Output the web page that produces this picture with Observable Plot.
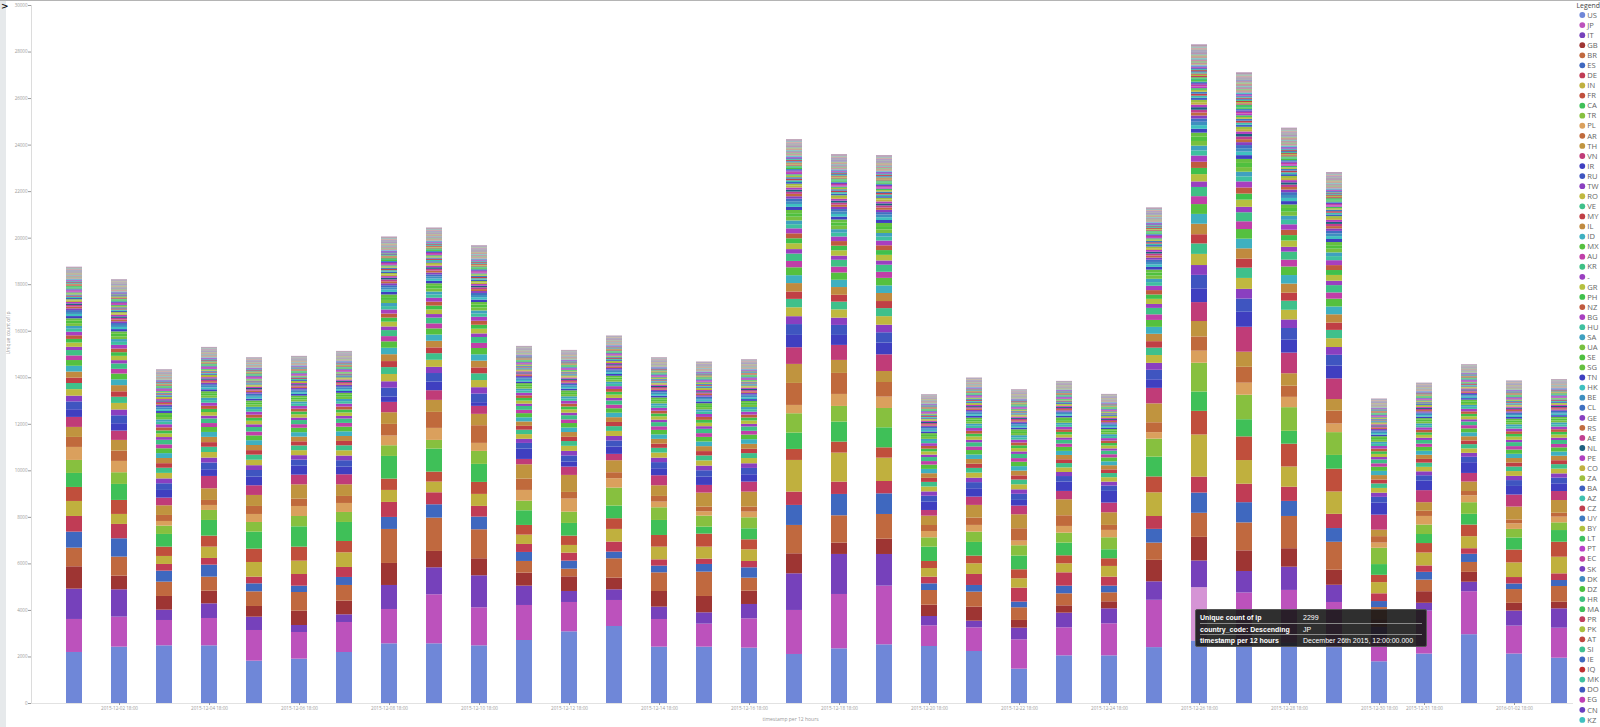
<!DOCTYPE html>
<html><head><meta charset="utf-8">
<script src="https://cdn.jsdelivr.net/npm/d3@7"></script>
<script src="https://cdn.jsdelivr.net/npm/@observablehq/plot@0.6"></script>
<style>
html,body{margin:0;padding:0;background:#fff;width:1600px;height:727px;overflow:hidden;font-family:"Open Sans",Helvetica,Arial,sans-serif;}
#wrap{position:relative;width:1600px;height:727px;overflow:hidden;}
#chart{position:absolute;left:0;top:0;}
#overlay{position:absolute;left:0;top:0;pointer-events:none;}
#topline{position:absolute;left:0;top:0;width:1600px;height:1px;background:#b4b4b4;}
#side{position:absolute;left:0;top:0;width:6px;height:727px;background:#e6e9eb;}
#chev{position:absolute;left:1px;top:0px;font-size:9px;font-weight:bold;color:#111;font-family:"DejaVu Sans",sans-serif;line-height:12px;}
#tip{position:absolute;left:1195px;top:609px;width:230px;height:36px;background:rgba(24,24,24,0.9);border:1px solid #555;border-radius:2px;color:#fff;font-family:"Liberation Sans",Arial,sans-serif;font-size:7px;}
#tip .row{position:absolute;left:4px;right:4px;height:11px;line-height:11px;white-space:nowrap;}
#tip .row b{position:absolute;left:0;}
#tip .row span{position:absolute;left:103px;}
#tip .sep{position:absolute;left:4px;right:4px;height:0;border-top:1px solid #8a8a8a;}
</style></head>
<body>
<div id="wrap">
  <div id="chart"></div>
  <div id="side"><div id="chev">&gt;</div></div>
  <div id="topline"></div>
</div>
<script>
// ---------- DATA ----------
const days = ["2015-12-01","2015-12-02","2015-12-03","2015-12-04","2015-12-05","2015-12-06","2015-12-07","2015-12-08","2015-12-09","2015-12-10","2015-12-11","2015-12-12","2015-12-13","2015-12-14","2015-12-15","2015-12-16","2015-12-17","2015-12-18","2015-12-19","2015-12-20","2015-12-21","2015-12-22","2015-12-23","2015-12-24","2015-12-25","2015-12-26","2015-12-27","2015-12-28","2015-12-29","2015-12-30","2015-12-31","2016-01-01","2016-01-02","2016-01-03"];
const tickDays = ["2015-12-02","2015-12-04","2015-12-06","2015-12-08","2015-12-10","2015-12-12","2015-12-14","2015-12-16","2015-12-18","2015-12-20","2015-12-22","2015-12-24","2015-12-26","2015-12-28","2015-12-30","2015-12-31","2016-01-02"];
const tickLabels = ["2015-12-02 18:00","2015-12-04 18:00","2015-12-06 18:00","2015-12-08 18:00","2015-12-10 18:00","2015-12-12 18:00","2015-12-14 18:00","2015-12-16 18:00","2015-12-18 18:00","2015-12-20 18:00","2015-12-22 18:00","2015-12-24 18:00","2015-12-26 18:00","2015-12-28 18:00","2015-12-30 18:00","2015-12-31 18:00","2016-01-02 18:00"];
const yTicks = [0,2000,4000,6000,8000,10000,12000,14000,16000,18000,20000,22000,24000,26000,28000,30000];

// bar totals (unique count of ip per bucket)
const totals = [18750,18213,14344,15304,14860,14918,15132,20048,20435,19675,15347,15175,15792,14860,14674,14774,24236,23593,23550,13270,13986,13485,13843,13284,21300,28311,27110,24726,22822,13084,13768,14562,13860,13923];

// largest countries, per bar
const US = [2193,2422,2479,2479,1820,1906,2192,2565,2565,2479,2708,3081,3310,2422,2422,2379,2107,2350,2522,2450,2235,1476,2049,2049,2402,2680,2495,2587,2402,1793,2125,2957,2125,1947];
const JP = [1419,1290,1089,1175,1318,1146,1290,1476,2107,1634,1505,1261,1118,1189,989,1261,1892,2336,2522,888,1017,1261,1204,1376,2033,2299,2255,2273,1940,1050,1848,1848,1201,1289];
const IT = [1304,1175,444,630,573,301,330,1032,1161,1376,831,473,459,530,487,616,1576,1720,1361,401,287,502,630,645,795,1146,924,998,739,430,333,407,647,833];
const GB = [960,588,588,545,459,616,588,946,702,731,559,630,502,673,702,573,860,487,659,487,602,330,315,301,924,1016,887,795,647,330,499,425,333,284];
const BR = [802,817,616,602,630,802,673,1462,1433,1247,502,330,831,802,1046,559,1218,1175,1060,630,645,545,516,387,739,1035,1201,1386,1201,520,499,425,591,675];
const ES = [688,788,473,516,344,272,344,516,573,545,387,344,287,287,330,444,860,917,888,287,287,244,330,287,591,869,869,647,591,259,333,351,240,258];
const DE = [673,616,287,287,287,502,430,645,516,459,344,344,430,272,229,272,573,530,530,287,473,602,573,387,554,684,795,610,610,333,277,240,277,287];
const IN = [645,430,344,487,630,573,630,516,459,516,401,330,545,545,516,502,1361,1247,1003,373,459,401,387,459,1016,1811,1016,869,961,480,554,517,628,714];
const FR = [602,602,401,473,573,602,487,487,430,516,416,401,459,502,559,430,473,473,444,301,330,387,344,330,684,1016,1016,980,980,314,407,499,554,645];
const CA = [602,688,545,673,731,874,817,974,989,774,630,545,545,645,301,473,702,860,860,616,588,588,545,387,850,832,739,554,591,462,388,462,517,502];
const TR = [559,502,358,430,416,444,430,459,373,559,416,487,774,545,473,473,831,673,831,401,444,444,430,516,776,1238,1053,1016,980,702,407,499,370,331];
const PL = [559,487,200,215,344,430,387,416,516,344,459,559,401,244,186,244,358,516,487,272,287,201,287,315,277,517,517,443,370,222,370,296,240,244];
const AR = [430,444,258,215,344,315,301,502,688,760,487,287,258,244,201,215,946,903,630,258,315,530,459,215,425,610,684,480,554,277,222,185,166,169];
const TH = [430,459,416,502,473,616,502,502,516,487,616,731,516,459,602,645,817,559,473,401,545,602,688,545,813,665,647,536,499,277,370,407,554,546];
const VN = [430,401,330,530,416,416,430,444,416,344,229,358,272,430,330,430,717,645,717,244,358,373,358,416,665,813,1072,887,887,647,517,370,517,387];
const IR = [330,315,330,287,373,387,330,229,373,158,444,215,315,301,358,315,530,430,502,358,358,244,401,502,370,591,647,554,554,517,407,462,370,330];

// smaller countries: relative sizes, they share the rest of each bar
const tailCodes = ["RU","TW","RO","VE","MY","IL","ID","MX","AU","KR","-","GR","PH","NZ","BG","HU","SA","UA","SE","SG","TN","HK","BE","CL","GE","RS","AE","NL","PE","CO","ZA","BA","AZ","CZ","UY","BY","LT","PT","EC","SK","DK","DZ","HR","MA","PR","PK","AT","SI","IE","IQ","MK","DO","EG","CN","KZ",
  "LV","EE","LU","CY","MD","AM","KE","NG","BD","LK","NP","MN","KH","JO","LB","KW","QA","OM","SY","PS","SD","LY","TZ","GH","CI","SN","CM","ZW","MU","GT","SV","HN","CR","PA","BO","PY","JM","TT","IS","MT","AL","ME","MO","BN","UZ"];
const tailWeights = [315,230,260,245,215,245,230,230,185,215,130,170,145,145,145,120,110,110,100,95,90,85,80,75,70,70,65,60,60,55,55,50,50,45,45,45,40,40,40,38,36,35,33,32,30,30,28,27,26,25,24,23,22,21,20,
  18,18,17,17,16,16,16,15,15,14,14,14,13,13,13,12,12,12,11,11,11,11,10,10,10,10,9,9,9,9,9,8,8,8,8,8,8,7,7,7,7,7,6,6,6];

const legendCodes = ["US","JP","IT","GB","BR","ES","DE","IN","FR","CA","TR","PL","AR","TH","VN","IR","RU","TW","RO","VE","MY","IL","ID","MX","AU","KR","-","GR","PH","NZ","BG","HU","SA","UA","SE","SG","TN","HK","BE","CL","GE","RS","AE","NL","PE","CO","ZA","BA","AZ","CZ","UY","BY","LT","PT","EC","SK","DK","DZ","HR","MA","PR","PK","AT","SI","IE","IQ","MK","DO","EG","CN","KZ"];
const legendColors = ["#6f87d8","#bc52bc","#7641bb","#9e3533","#c0693f","#3f68bf","#c03c55","#c0b03e","#c04f3c","#3fc058","#87c03f","#daa05d","#c06a3c","#c0943f","#c03c78","#3f3fc0","#3f55c0","#8a3fc0","#c0b83f","#3fc08b","#c03f45","#c08a3f","#3fb0c0","#55c03f","#c03fa8","#3fc085","#9a3fc0","#b5c03f","#3fc04c","#c05a3f","#a83fc0","#3fc0a0","#3fa0c0","#78c03f","#4fc03f","#66c03f","#3f3fc0","#3fc0c0","#3f8fc0","#3f70c0","#883fc0","#c06c3f","#c03f90","#1e6080","#b03fc0","#c0b03f","#9ec03f","#3f60c0","#3fc0ae","#c03f50","#3f7ac0","#b0c03f","#3fc060","#b83fc8","#c03fa0","#7a3fc0","#3f8ac0","#4ac03f","#3fc07f","#3fc05a","#c03f5e","#a8c03f","#c0473f","#3fc090","#3f6ac0","#c03030","#3fc0a0","#3f58c0","#c03fb4","#6a3fc0","#3fc0c0"];

const hover = {day: "2015-12-26", country: "JP", value: 2299, label: "Unique count of ip", split: "country_code: Descending", timeLabel: "timestamp per 12 hours", time: "December 26th 2015, 12:00:00.000"};

// ---------- BUILD ----------
const majorCodes = ["US","JP","IT","GB","BR","ES","DE","IN","FR","CA","TR","PL","AR","TH","VN","IR"];
const major = {US,JP,IT,GB,BR,ES,DE,IN,FR,CA,TR,PL,AR,TH,VN,IR};
const wsum = d3.sum(tailWeights);
const rows = [];
days.forEach((day, i) => {
  let s = 0;
  for (const c of majorCodes) { const v = major[c][i]; s += v; rows.push({day, country: c, value: v}); }
  const rest = Math.max(0, totals[i] - s);
  tailCodes.forEach((c, j) => rows.push({day, country: c, value: rest * tailWeights[j] / wsum}));
});

const allCodes = majorCodes.concat(tailCodes);
const colorOf = new Map(legendCodes.map((c, i) => [c, legendColors[i]]));
const allColors = allCodes.map((c, i) => colorOf.get(c) ||
  d3.interpolateRgb(legendColors[(i * 7) % legendColors.length], "#a8a8b4")(0.4));
const tickLabelOf = new Map(tickDays.map((d, i) => [d, tickLabels[i]]));

const chart = Plot.plot({
  width: 1600, height: 727,
  marginLeft: 31, marginRight: 27, marginTop: 5, marginBottom: 24,
  style: {fontFamily: "'Open Sans', Helvetica, Arial, sans-serif", background: "transparent", overflow: "visible"},
  x: {type: "band", domain: days, paddingInner: 0.639, paddingOuter: 0.283, align: 0.85, axis: null},
  y: {domain: [0, 30000], axis: null},
  color: {domain: allCodes, range: allColors},
  marks: [
    Plot.frame({anchor: "left", stroke: "#dcdcdc"}),
    Plot.ruleY([0], {stroke: "#e2e2e2"}),
    Plot.barY(rows, {x: "day", y: "value", fill: "country",
      fillOpacity: d => (d.day === hover.day && d.country === hover.country) ? 0.62 : 1}),
    Plot.axisY({ticks: yTicks, tickFormat: d => String(d), tickSize: 3, tickPadding: 1, fontSize: 4.5, color: "#9a9a9a", label: null}),
    Plot.axisX({ticks: tickDays, tickFormat: d => tickLabelOf.get(d), tickSize: 2, tickPadding: 1.5, fontSize: 4.6, color: "#9a9a9a", label: null}),
    Plot.text(["Unique count of ip"], {frameAnchor: "left", rotate: -90, dx: -23, fontSize: 5, fill: "#999"}),
    Plot.text(["timestamp per 12 hours"], {frameAnchor: "bottom", dy: 17, dx: -12, fontSize: 5, fill: "#999"})
  ]
});
document.getElementById("chart").appendChild(chart);

// ---------- LEGEND ----------
const ov = d3.select("#wrap").append("svg").attr("id", "overlay").attr("width", 1600).attr("height", 727)
  .style("font-family", "'Open Sans', Helvetica, Arial, sans-serif");
ov.append("text").attr("x", 1576.5).attr("y", 8).attr("font-size", 6.9).attr("fill", "#444").text("Legend");
const items = ov.selectAll("g.li").data(legendCodes).join("g").attr("class", "li")
  .attr("transform", (d, i) => `translate(0,${15 + i * 10.07})`);
items.append("circle").attr("cx", 1582.3).attr("cy", 0).attr("r", 2.9).attr("fill", (d, i) => legendColors[i]);
items.append("text").attr("x", 1587.3).attr("y", 2.7).attr("font-size", 7.6).attr("fill", "#666").text(d => d);

// ---------- TOOLTIP ----------
const tip = d3.select("#wrap").append("div").attr("id", "tip");
const tipRows = [[hover.label, String(hover.value)], [hover.split, hover.country], [hover.timeLabel, hover.time]];
tipRows.forEach((r, i) => {
  const row = tip.append("div").attr("class", "row").style("top", (2 + i * 11.5) + "px");
  row.append("b").text(r[0]);
  row.append("span").text(r[1]);
});
tip.append("div").attr("class", "sep").style("top", "12.5px");
tip.append("div").attr("class", "sep").style("top", "24px");
</script>
</body></html>
